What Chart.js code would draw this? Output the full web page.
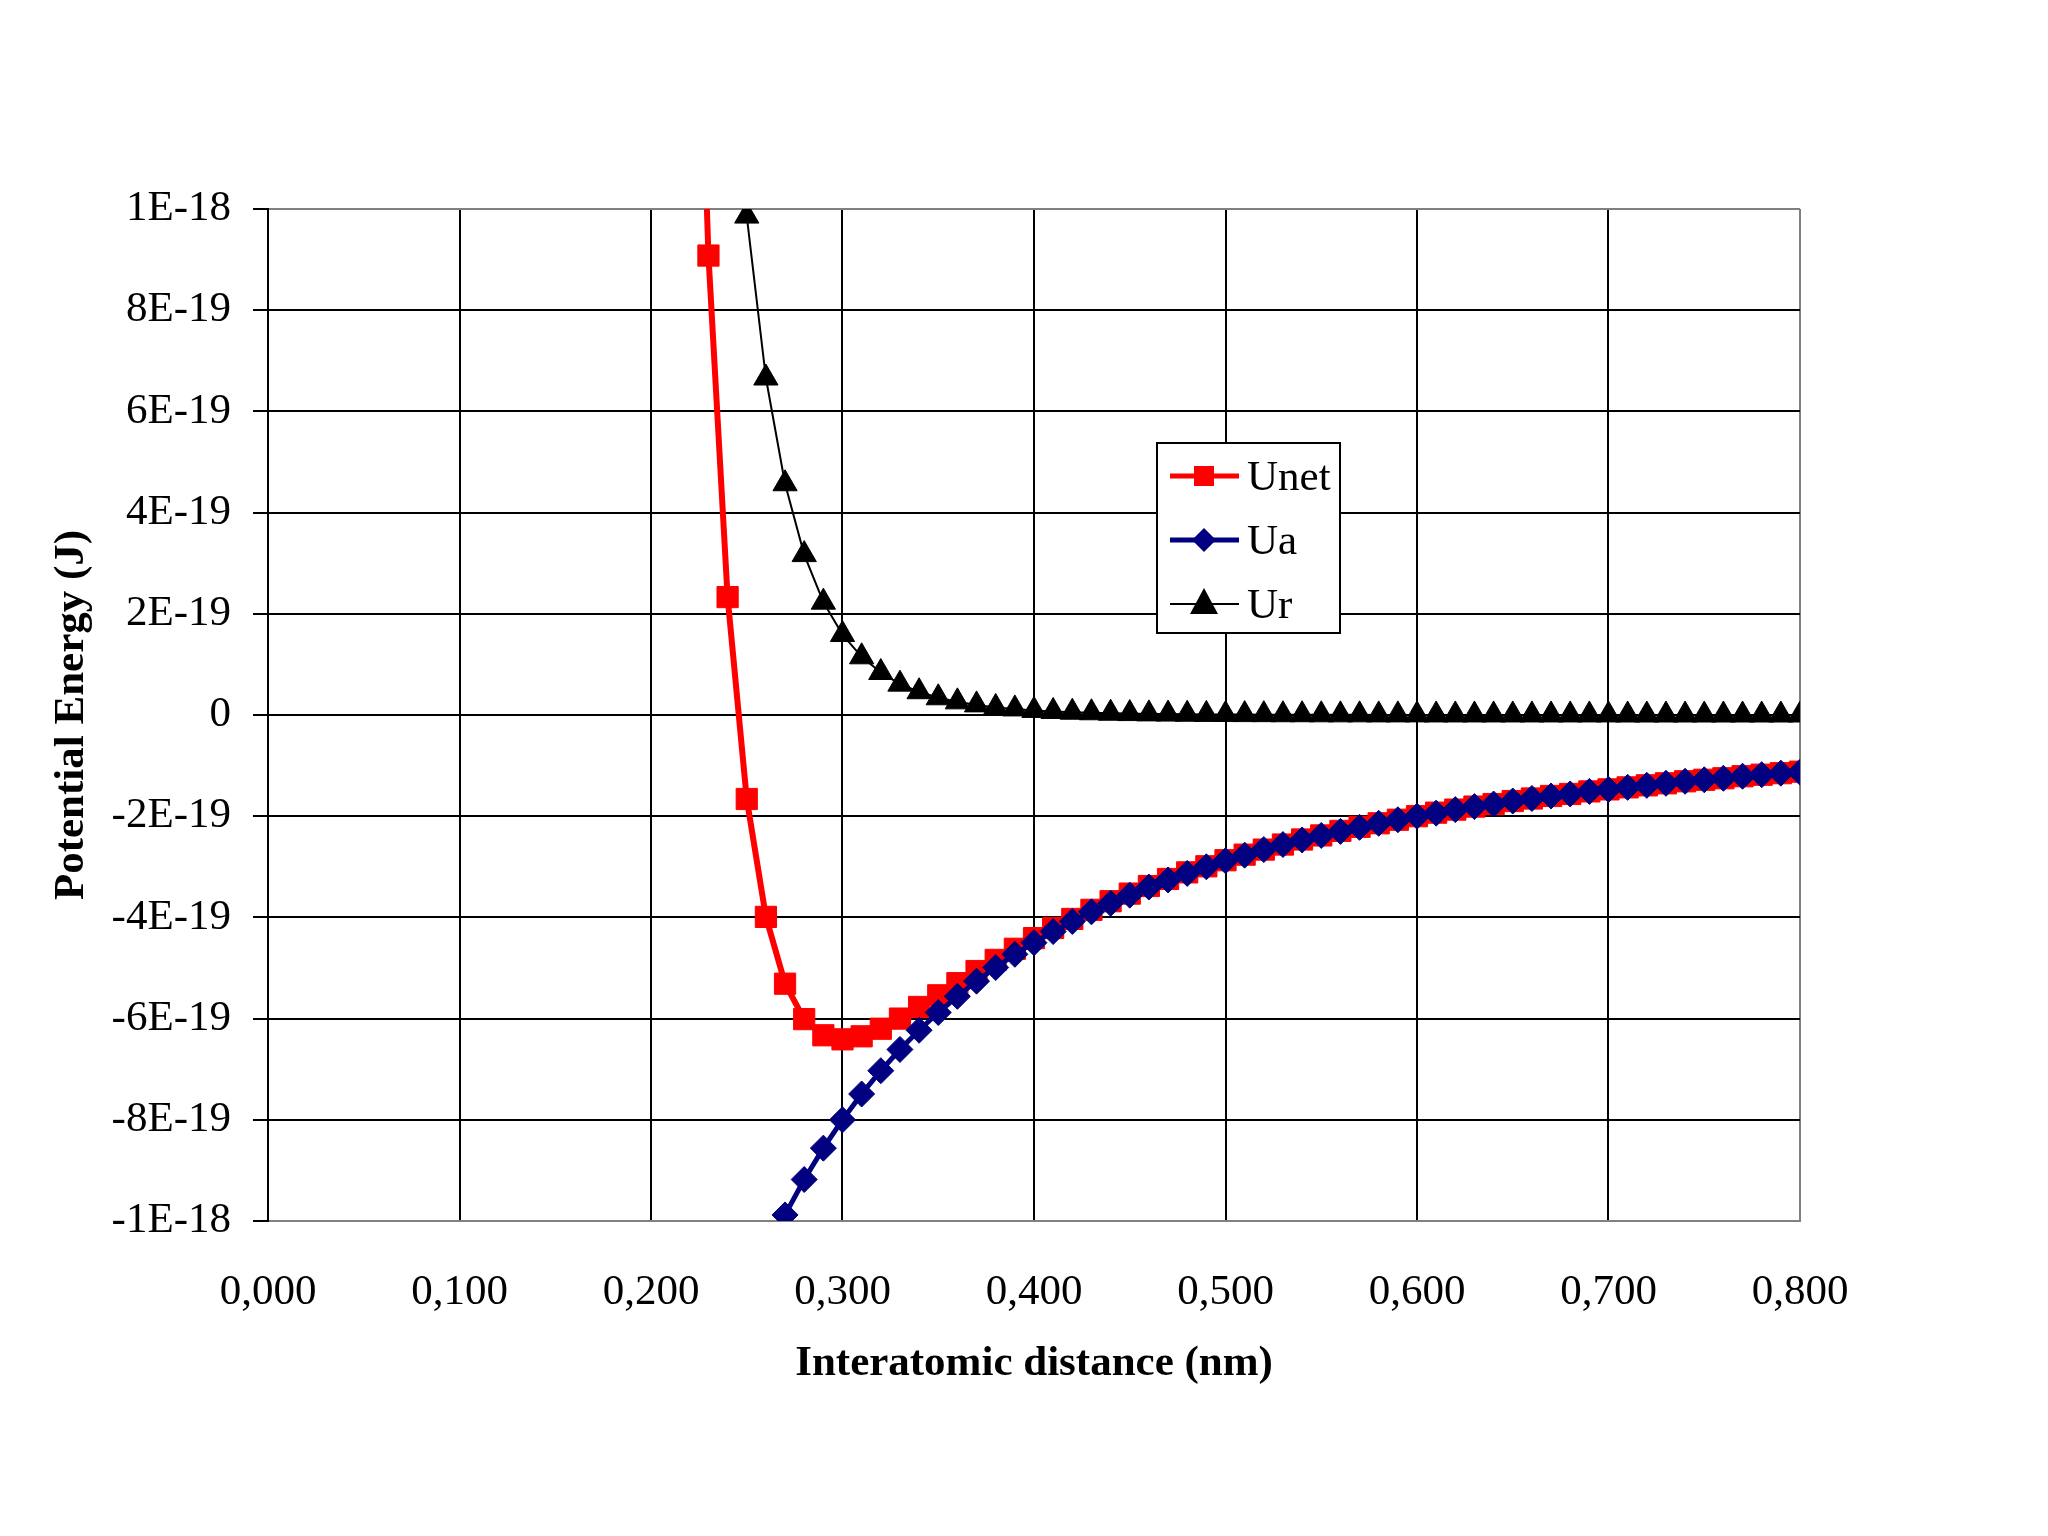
<!DOCTYPE html>
<html>
<head>
<meta charset="utf-8">
<title>Potential Energy vs Interatomic distance</title>
<script src="https://cdn.jsdelivr.net/npm/chart.js@4.4.0/dist/chart.umd.min.js"></script>
<style>
  html, body { margin: 0; padding: 0; background: #fff; }
  #wrap { width: 2048px; height: 1536px; }
</style>
</head>
<body>
<div id="wrap"><canvas id="energyChart"></canvas></div>
<script>
// Interatomic distance (nm)
const distance = [
  0.22, 0.23, 0.24, 0.25, 0.26, 0.27, 0.28, 0.29, 0.30, 0.31,
  0.32, 0.33, 0.34, 0.35, 0.36, 0.37, 0.38, 0.39, 0.40, 0.41,
  0.42, 0.43, 0.44, 0.45, 0.46, 0.47, 0.48, 0.49, 0.50, 0.51,
  0.52, 0.53, 0.54, 0.55, 0.56, 0.57, 0.58, 0.59, 0.60, 0.61,
  0.62, 0.63, 0.64, 0.65, 0.66, 0.67, 0.68, 0.69, 0.70, 0.71,
  0.72, 0.73, 0.74, 0.75, 0.76, 0.77, 0.78, 0.79, 0.80
];

// energies, in units of 1E-19 J
const unet = [
  20.5, 9.08, 2.33, -1.66, -3.99, -5.31, -6.01, -6.33, -6.41, -6.35,
  -6.20, -6.00, -5.77, -5.54, -5.30, -5.06, -4.84, -4.62, -4.41, -4.21,
  -4.03, -3.85, -3.68, -3.53, -3.38, -3.24, -3.11, -2.99, -2.87, -2.76,
  -2.66, -2.56, -2.46, -2.38, -2.29, -2.21, -2.14, -2.07, -2.00, -1.93,
  -1.87, -1.81, -1.76, -1.70, -1.65, -1.60, -1.56, -1.51, -1.47, -1.43,
  -1.39, -1.35, -1.31, -1.28, -1.25, -1.21, -1.18, -1.15, -1.12
];
const ua = [
  -14.9, -13.6, -12.5, -11.5, -10.65, -9.88, -9.18, -8.56, -8.00, -7.49,
  -7.03, -6.61, -6.23, -5.88, -5.56, -5.26, -4.99, -4.73, -4.50, -4.28,
  -4.08, -3.89, -3.72, -3.56, -3.40, -3.26, -3.13, -3.00, -2.88, -2.77,
  -2.66, -2.56, -2.47, -2.38, -2.30, -2.22, -2.14, -2.07, -2.00, -1.94,
  -1.87, -1.81, -1.76, -1.70, -1.65, -1.60, -1.56, -1.51, -1.47, -1.43,
  -1.39, -1.35, -1.31, -1.28, -1.25, -1.21, -1.18, -1.15, -1.13
];
const ur = [
  35.4, 22.7, 14.8, 9.86, 6.66, 4.57, 3.17, 2.23, 1.59, 1.15,
  0.84, 0.61, 0.46, 0.34, 0.26, 0.20, 0.15, 0.12, 0.09, 0.07,
  0.055, 0.044, 0.035, 0.028, 0.022, 0.018, 0.015, 0.012, 0.010, 0.008,
  0.007, 0.005, 0.005, 0.004, 0.003, 0.003, 0.002, 0.002, 0.002, 0.001,
  0.001, 0.001, 0.001, 0.001, 0.001, 0.001, 0.001, 0.001, 0.001, 0,
  0, 0, 0, 0, 0, 0, 0, 0, 0
];

const xTickLabels = ['0,000', '0,100', '0,200', '0,300', '0,400', '0,500', '0,600', '0,700', '0,800'];
const yTickLabels = ['-1E-18', '-8E-19', '-6E-19', '-4E-19', '-2E-19', '0', '2E-19', '4E-19', '6E-19', '8E-19', '1E-18'];

const serif = "'Liberation Serif', 'Times New Roman', serif";
const grey = '#808080';

function points(values) {
  return distance.map((x, i) => ({ x: x, y: values[i] }));
}

// legend drawn inside the plot, like the Excel original
const legendBox = {
  id: 'legendBox',
  afterDraw(chart) {
    const ctx = chart.ctx;
    const a = chart.chartArea;
    const x = a.left + 889, y = a.top + 234, w = 183, h = 190;
    ctx.save();
    ctx.fillStyle = '#fff';
    ctx.fillRect(x, y, w, h);
    ctx.strokeStyle = '#000';
    ctx.lineWidth = 2;
    ctx.strokeRect(x, y, w, h);
    chart.data.datasets.forEach((ds, i) => {
      const cy = y + 33 + i * 64;
      const mx = x + 47;
      ctx.strokeStyle = ds.borderColor;
      ctx.lineWidth = Math.min(ds.borderWidth, 5);
      ctx.beginPath();
      ctx.moveTo(x + 13, cy);
      ctx.lineTo(x + 82, cy);
      ctx.stroke();
      ctx.fillStyle = ds.pointBackgroundColor;
      ctx.beginPath();
      if (ds.pointStyle === 'rect') {
        ctx.rect(mx - 10, cy - 10, 20, 20);
      } else if (ds.pointStyle === 'rectRot') {
        ctx.moveTo(mx, cy - 12); ctx.lineTo(mx + 12, cy);
        ctx.lineTo(mx, cy + 12); ctx.lineTo(mx - 12, cy);
        ctx.closePath();
      } else {
        ctx.moveTo(mx, cy - 16); ctx.lineTo(mx + 14, cy + 10);
        ctx.lineTo(mx - 14, cy + 10);
        ctx.closePath();
      }
      ctx.fill();
      ctx.fillStyle = '#000';
      ctx.font = '43px ' + serif;
      ctx.textBaseline = 'middle';
      ctx.textAlign = 'left';
      ctx.fillText(ds.label, x + 90, cy + 3);
    });
    ctx.restore();
  }
};

const config = {
  type: 'line',
  data: {
    datasets: [
      {
        label: 'Unet',
        data: points(unet),
        borderColor: '#FF0000',
        backgroundColor: '#FF0000',
        pointBackgroundColor: '#FF0000',
        pointBorderColor: '#FF0000',
        borderWidth: 6,
        pointStyle: 'rect',
        pointRadius: 15,
        pointBorderWidth: 1,
        order: 2
      },
      {
        label: 'Ua',
        data: points(ua),
        borderColor: '#000080',
        backgroundColor: '#000080',
        pointBackgroundColor: '#000080',
        pointBorderColor: '#000080',
        borderWidth: 5,
        pointStyle: 'rectRot',
        pointRadius: 13,
        pointBorderWidth: 1,
        order: 0
      },
      {
        label: 'Ur',
        data: points(ur),
        borderColor: '#000000',
        backgroundColor: '#000000',
        pointBackgroundColor: '#000000',
        pointBorderColor: '#000000',
        borderWidth: 2,
        pointStyle: 'triangle',
        pointRadius: 14,
        pointBorderWidth: 1,
        order: 1
      }
    ]
  },
  options: {
    responsive: true,
    maintainAspectRatio: false,
    animation: false,
    layout: { padding: { left: 0, top: 209, right: 248, bottom: 135 } },
    elements: { line: { tension: 0 } },
    plugins: {
      legend: { display: false },
      tooltip: { enabled: false }
    },
    scales: {
      x: {
        type: 'linear',
        min: 0,
        max: 0.8,
        afterFit(scale) { scale.height = 180; },
        ticks: {
          stepSize: 0.1,
          autoSkip: false,
          maxRotation: 0,
          padding: 46,
          color: '#000',
          font: { family: serif, size: 43 },
          callback: (v, i) => xTickLabels[i]
        },
        grid: {
          drawTicks: false,
          lineWidth: 2,
          color: ctx => (ctx.index === 8 ? grey : '#000')
        },
        border: { display: true, color: grey, width: 2 },
        title: {
          display: true,
          text: 'Interatomic distance (nm)',
          color: '#000',
          font: { family: serif, size: 43, weight: 'bold' },
          padding: { top: 0, bottom: 11 }
        }
      },
      y: {
        type: 'linear',
        min: -10,
        max: 10,
        afterFit(scale) { scale.width = 268; },
        ticks: {
          stepSize: 2,
          padding: 22,
          color: '#000',
          font: { family: serif, size: 43 },
          callback: (v, i) => yTickLabels[i]
        },
        grid: {
          drawTicks: true,
          tickLength: 15,
          lineWidth: 2,
          tickColor: '#000',
          color: ctx => (ctx.index === 0 || ctx.index === 10 ? grey : '#000')
        },
        border: { display: true, color: '#000', width: 2 },
        title: {
          display: true,
          text: 'Potential Energy (J)',
          color: '#000',
          font: { family: serif, size: 43, weight: 'bold' },
          padding: { top: 46, bottom: 0 }
        }
      }
    }
  },
  plugins: [legendBox]
};

window.onload = function() {
  const ctx = document.getElementById('energyChart').getContext('2d');
  new Chart(ctx, config);
};
</script>
</body>
</html>
